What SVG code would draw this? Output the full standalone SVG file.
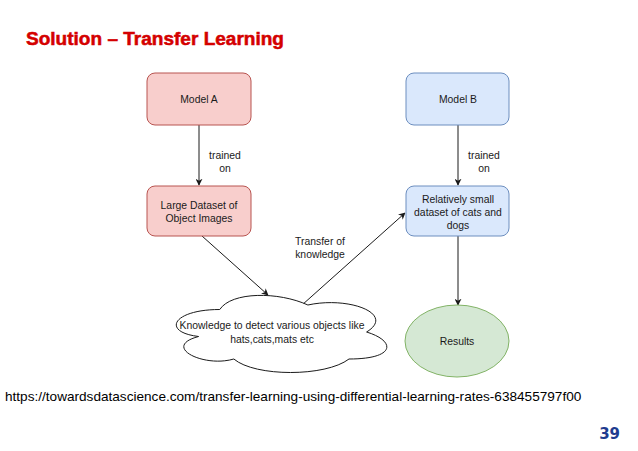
<svg xmlns="http://www.w3.org/2000/svg" width="638" height="451" viewBox="0 0 638 451">
<defs>
<style>
.t{font-family:"Liberation Sans",Arial,sans-serif;font-size:10.4px;fill:#1a1a1a;text-anchor:middle}
.c{stroke:#1a1a1a;stroke-width:1;fill:none}
</style>
<marker id="ah" viewBox="0 0 10 10" refX="9" refY="5" markerWidth="7" markerHeight="7" orient="auto" markerUnits="userSpaceOnUse"><path d="M0,0 L10,5 L0,10 L3,5 Z" fill="#1a1a1a"/></marker>
</defs>
<rect width="638" height="451" fill="#fff"/>
<text x="26" y="45" font-family="'Liberation Sans',Arial,sans-serif" font-weight="bold" font-size="17.5" fill="#d40000" stroke="#d40000" stroke-width="0.5" textLength="258" lengthAdjust="spacingAndGlyphs">Solution – Transfer Learning</text>
<g id="connectors">
<line class="c" x1="199" y1="125" x2="199" y2="185" marker-end="url(#ah)"/>
<line class="c" x1="458" y1="125" x2="458" y2="185" marker-end="url(#ah)"/>
<line class="c" x1="458" y1="236" x2="458" y2="305" marker-end="url(#ah)"/>
<line class="c" x1="202" y1="236" x2="268" y2="295" marker-end="url(#ah)"/>
<line class="c" x1="302" y1="305" x2="405" y2="213" marker-end="url(#ah)"/>
<text class="t" x="225" y="159">trained</text>
<text class="t" x="225" y="172">on</text>
<text class="t" x="484" y="159">trained</text>
<text class="t" x="484" y="172">on</text>
<text class="t" x="320" y="245">Transfer of</text>
<text class="t" x="320" y="258">knowledge</text>
</g>
<g id="modelA">
<rect x="147" y="73" width="104" height="52" rx="8" fill="#f8cecc" stroke="#b85450"/>
<text class="t" x="199" y="103">Model A</text>
</g>
<g id="largeDataset">
<rect x="147" y="186" width="104" height="50" rx="8" fill="#f8cecc" stroke="#b85450"/>
<text class="t" x="199" y="209">Large Dataset of</text>
<text class="t" x="199" y="222">Object Images</text>
</g>
<g id="modelB">
<rect x="406" y="73" width="103" height="52" rx="8" fill="#dae8fc" stroke="#6c8ebf"/>
<text class="t" x="458" y="103">Model B</text>
</g>
<g id="smallDataset">
<rect x="406" y="186" width="103" height="50" rx="8" fill="#dae8fc" stroke="#6c8ebf"/>
<text class="t" x="458" y="203">Relatively small</text>
<text class="t" x="458" y="216">dataset of cats and</text>
<text class="t" x="458" y="229">dogs</text>
</g>
<g id="results">
<ellipse cx="457" cy="341" rx="52" ry="36" fill="#d5e8d4" stroke="#82b366"/>
<text class="t" x="457" y="345">Results</text>
</g>
<g id="knowledge">
<path d="M219.75,309.5 C172.75,309.5 161,332 198.6,336.5 C161,346.4 203.3,368 233.85,359 C255,377 325.5,377 349,359 C396,359 396,341 366.6,332 C396,314 349,296 307.9,305 C278.5,291.5 231.5,291.5 219.75,309.5 Z" fill="#fff" stroke="#1a1a1a"/>
<text class="t" x="272" y="329">Knowledge to detect various objects like</text>
<text class="t" x="272" y="343">hats,cats,mats etc</text>
</g>
<text x="5" y="401" font-family="'Liberation Sans',Arial,sans-serif" font-size="13.6" fill="#000">https://towardsdatascience.com/transfer-learning-using-differential-learning-rates-638455797f00</text>
<text x="620" y="439" font-family="'DejaVu Sans',Verdana,sans-serif" font-weight="bold" font-size="15" fill="#1f3c8f" text-anchor="end">39</text>
</svg>
